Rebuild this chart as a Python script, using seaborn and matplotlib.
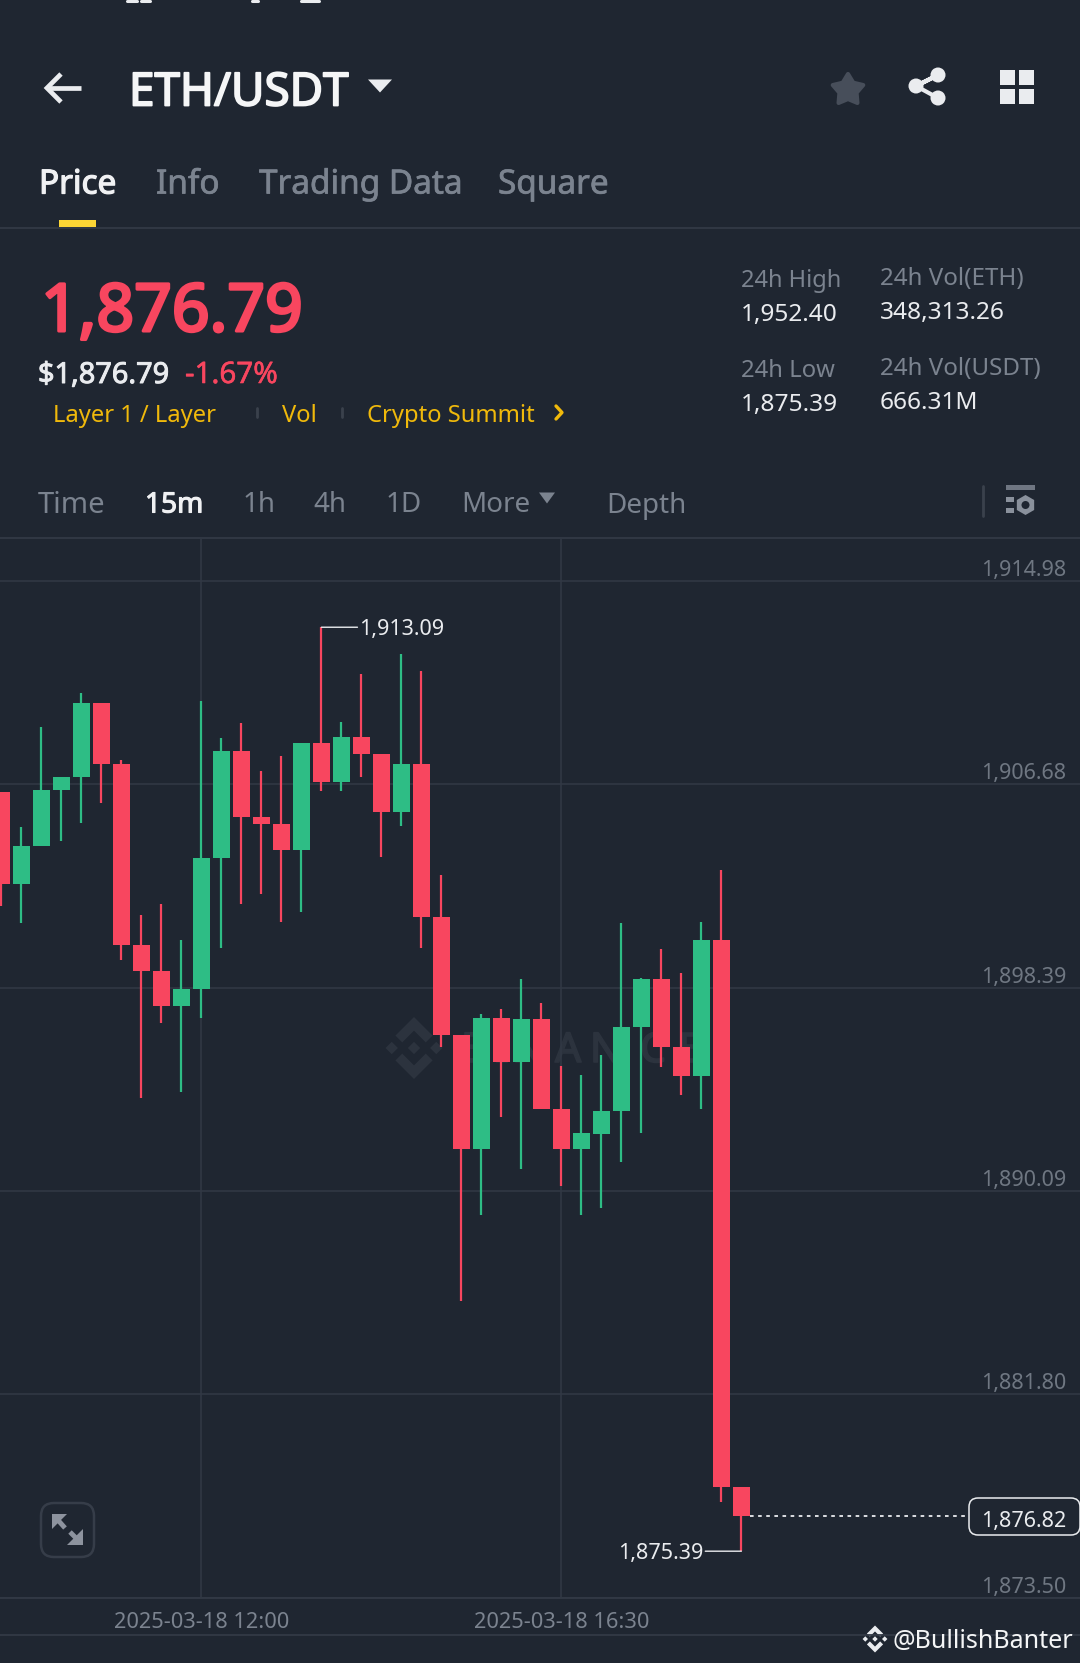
import matplotlib
matplotlib.use("Agg")
import matplotlib.pyplot as plt
import matplotlib.patheffects as pe
from matplotlib.patches import Polygon, Rectangle, FancyBboxPatch, Circle, RegularPolygon
import numpy as np
import pandas as pd
import seaborn as sns

# 15m candles
opens = [1906.37, 1902.63, 1904.16, 1906.45, 1906.99, 1910.00, 1907.50, 1900.12, 1899.08, 1897.64,
         1898.33, 1903.69, 1908.05, 1905.36, 1905.05, 1904.00, 1908.38, 1906.79, 1908.60, 1907.92,
         1905.56, 1907.50, 1901.25, 1896.47, 1891.80, 1897.16, 1895.36, 1897.10, 1893.45, 1891.80,
         1892.43, 1893.36, 1896.78, 1898.72, 1895.98, 1894.78, 1900.33, 1878.02]
closes = [1902.63, 1904.16, 1906.45, 1906.99, 1910.00, 1907.50, 1900.12, 1899.08, 1897.64, 1898.33,
          1903.69, 1908.05, 1905.36, 1905.05, 1904.00, 1908.38, 1906.79, 1908.60, 1907.92, 1905.56,
          1907.50, 1901.25, 1896.45, 1891.80, 1897.16, 1895.36, 1897.10, 1893.45, 1891.80, 1892.44,
          1893.36, 1896.78, 1898.72, 1895.98, 1894.78, 1900.33, 1878.02, 1876.82]
highs = [1906.37, 1904.94, 1909.03, 1906.99, 1910.41, 1910.00, 1907.67, 1901.35, 1901.81, 1900.33,
         1910.08, 1908.58, 1909.17, 1907.22, 1907.82, 1908.38, 1913.09, 1909.22, 1911.18, 1907.92,
         1912.00, 1911.32, 1902.97, 1896.47, 1897.31, 1897.50, 1898.74, 1897.76, 1895.20, 1894.81,
         1895.64, 1901.01, 1898.76, 1899.96, 1898.98, 1901.06, 1903.20, 1878.02]
lows = [1901.72, 1901.01, 1904.16, 1904.37, 1905.09, 1905.90, 1899.51, 1893.87, 1896.93, 1894.14,
        1897.16, 1900.02, 1901.80, 1902.20, 1901.08, 1901.47, 1906.39, 1906.42, 1906.96, 1903.73,
        1904.99, 1900.02, 1895.95, 1885.60, 1889.09, 1893.11, 1890.97, 1893.45, 1890.30, 1889.09,
        1889.39, 1891.28, 1892.47, 1895.15, 1894.02, 1893.45, 1877.40, 1875.39]

price_ticks = [1914.98, 1906.68, 1898.39, 1890.09, 1881.80, 1873.50]
price_labels = ["1,914.98", "1,906.68", "1,898.39", "1,890.09", "1,881.80", "1,873.50"]
time_ticks = [10, 28]
time_labels = ["2025-03-18 12:00", "2025-03-18 16:30"]
high_label = "1,913.09"
low_label = "1,875.39"
last_price = 1876.82
last_label = "1,876.82"

BG = "#1f2631"
GRID = "#323945"
RED = "#f8465f"
GREEN = "#2ebd85"
WHITE = "#eaecef"
GREY = "#7b838f"
GOLD = "#f0b90b"
YELLOW = "#fcd535"
MARK = "#2c333e"

W, H = 1080, 1663

sns.set_theme(style="dark", rc={"figure.facecolor": BG, "axes.facecolor": BG, "savefig.facecolor": BG})
plt.rcParams["font.family"] = ["Noto Sans", "DejaVu Sans"]

fig = plt.figure(figsize=(W / 100, H / 100), dpi=100)

# background axes in pixel coords for the app chrome
ui = fig.add_axes([0, 0, 1, 1], zorder=0)
ui.set_xlim(0, W)
ui.set_ylim(H, 0)
ui.axis("off")


def label(x, y, s, size, color=GREY, stroke=0, ha="left"):
    # stroke fakes the heavier weights, only regular Noto Sans is picked up here
    t = ui.text(x, y, s, fontsize=size, color=color, ha=ha, va="center_baseline")
    if stroke:
        t.set_path_effects([pe.withStroke(linewidth=stroke, foreground=color)])
    return t


def logo(cx, cy, r, color):
    # binance diamond mark
    for dx in (-0.72, 0, 0.72):
        ui.add_patch(Polygon([(cx + dx * r, cy - 0.2 * r), (cx + (dx + 0.2) * r, cy),
                              (cx + dx * r, cy + 0.2 * r), (cx + (dx - 0.2) * r, cy)], color=color, lw=0))
    for s in (-1, 1):
        pts = [(0, 1), (0.6, 0.4), (0.38, 0.18), (0, 0.56), (-0.38, 0.18), (-0.6, 0.4)]
        ui.add_patch(Polygon([(cx + a * r, cy + s * b * r) for a, b in pts], color=color, lw=0))


def tri(cx, cy, w, h, color):
    ui.add_patch(Polygon([(cx - w / 2, cy - h / 2), (cx + w / 2, cy - h / 2), (cx, cy + h / 2)], color=color, lw=0))


# bottoms of the status bar text, cut off by the crop
for x0, x1 in [(127, 137), (141, 150), (252, 258), (301, 319)]:
    ui.plot([x0, x1], [1, 1], color=WHITE, lw=2.2, solid_capstyle="round")

# header
ui.plot([47, 81], [88, 88], color=WHITE, lw=3.4, solid_capstyle="butt")
ui.plot([61, 47, 61], [74, 88, 102], color=WHITE, lw=3.4, solid_joinstyle="miter", solid_capstyle="butt")
label(129, 88, "ETH/USDT", 33, "#f5f6f7", stroke=1.3)
tri(380, 86, 24, 13, WHITE)

angles = np.linspace(-np.pi / 2, 1.5 * np.pi, 10, endpoint=False)
radii = np.array([16, 9] * 5)
ui.add_patch(Polygon(np.c_[848 + radii * np.cos(angles), 90 + radii * np.sin(angles)],
                     fc="#474e5a", ec="#474e5a", lw=3, joinstyle="round"))

ui.plot([916, 938, 916, 938], [86, 75, 86, 98], color=WHITE, lw=3)
for cx, cy, r in [(938, 75, 7.5), (916, 86, 7.5), (938, 98, 7.5)]:
    ui.add_patch(Circle((cx, cy), r, color=WHITE, lw=0))
for x0, y0 in [(1000, 70), (1019, 70), (1000, 89), (1019, 89)]:
    ui.add_patch(Rectangle((x0, y0), 15, 15, color=WHITE, lw=0))

# tabs
label(39, 181, "Price", 24, "#f0f1f3", stroke=0.9)
label(156, 181, "Info", 24, stroke=0.5)
label(259, 181, "Trading Data", 24, stroke=0.5)
label(498, 181, "Square", 24, stroke=0.5)
ui.add_patch(Rectangle((59, 220), 37, 7, color=YELLOW, lw=0))
ui.plot([0, W], [228, 228], color=GRID, lw=1.3)

# price block
label(41, 306, "1,876.79", 47.5, RED, stroke=2.2)
label(38, 372, "$1,876.79", 20.8, WHITE, stroke=0.7)
label(185, 372, "-1.67%", 21.3, RED, stroke=0.4)
label(53, 413, "Layer 1 / Layer", 17.1, GOLD)
label(282, 413, "Vol", 17.1, GOLD)
label(367, 413, "Crypto Summit", 17.1, GOLD)
ui.plot([556, 562, 556], [406, 412.5, 419], color=GOLD, lw=2.4)
for x in (257, 342):
    ui.plot([x, x], [408, 417], color="#3a414c", lw=2)

label(741, 278, "24h High", 17)
label(741, 312, "1,952.40", 17.6, WHITE)
label(741, 368, "24h Low", 17.2)
label(741, 402, "1,875.39", 17.6, WHITE)
label(880, 276, "24h Vol(ETH)", 17.4)
label(880, 310, "348,313.26", 17.6, WHITE)
label(880, 366, "24h Vol(USDT)", 17.4)
label(880, 400, "666.31M", 17.6, WHITE)

# interval row
label(38, 502, "Time", 21)
label(145, 502, "15m", 20.2, "#f0f1f3", stroke=0.8)
label(243, 502, "1h", 20)
label(313, 502, "4h", 20)
label(386, 502, "1D", 20)
label(461, 502, "More", 20)
tri(547, 498, 16, 11, GREY)
label(606, 502, "Depth", 20)
ui.plot([983, 983], [486, 516], color="#3a414c", lw=2)
ui.add_patch(Rectangle((1006, 485), 29, 5, color="#6f7682", lw=0))
ui.add_patch(Rectangle((1006, 497), 8, 5, color="#8a919c", lw=0))
ui.add_patch(Rectangle((1006, 508), 8, 5, color="#8a919c", lw=0))
ui.add_patch(RegularPolygon((1025.5, 505), 6, radius=10, color="#8a919c", lw=0))
ui.add_patch(Circle((1025.5, 505), 4, color=BG, lw=0))
ui.plot([0, W], [538, 538], color=GRID, lw=1.3)

# watermark sits under the candles, letters are spaced wide
logo(414, 1048, 31, MARK)
for x, letter in zip([461, 495, 512, 555, 590, 640, 678], "BINANCE"):
    label(x, 1046, letter, 29.5, MARK, stroke=1.2)

# expand button
ui.add_patch(FancyBboxPatch((51, 1513), 33, 34, boxstyle="round,pad=10,rounding_size=13", fc="none", ec="#363d49", lw=1.8))
ui.add_patch(Polygon([(52, 1514), (67, 1514), (52, 1529)], color="#8d939e", lw=0))
ui.add_patch(Polygon([(83, 1545), (67, 1545), (83, 1529)], color="#8d939e", lw=0))
ui.plot([57, 65], [1519, 1528], color="#8d939e", lw=3.5, solid_capstyle="butt")
ui.plot([70, 78], [1532, 1540], color="#8d939e", lw=3.5, solid_capstyle="butt")

# bottom rows
ui.plot([0, W], [1635, 1635], color=GRID, lw=1.3)
logo(875, 1639, 13.5, WHITE)
label(893, 1639, "@BullishBanter", 18.1, "#f4f5f6")

# last price tag
ui.add_patch(FancyBboxPatch((974, 1503), 101, 27, boxstyle="round,pad=5,rounding_size=9", fc=BG, ec=WHITE, lw=1.1))
label(1024, 1519, last_label, 15.5, WHITE, ha="center")

# chart axes
ax = fig.add_axes([0, 1 - 1598 / H, 1, (1598 - 539) / H], zorder=1)
ax.patch.set_alpha(0)

df = pd.DataFrame({"i": range(len(opens)), "open": opens, "close": closes, "high": highs, "low": lows})
df["top"] = df[["open", "close"]].max(axis=1)
df["bottom"] = df[["open", "close"]].min(axis=1)
df["body"] = df["top"] - df["bottom"]
df["up"] = df["close"] > df["open"]

for up, color in [(True, GREEN), (False, RED)]:
    part = df[df["up"] == up]
    ax.vlines(part["i"], part["low"], part["high"], color=color, lw=1.6, zorder=3)
    sns.barplot(x=part["i"].to_numpy(), y=part["body"].to_numpy(), bottom=part["bottom"].to_numpy(),
                native_scale=True, width=0.87, color=color, saturation=1, linewidth=0, ax=ax, zorder=4)

ax.set_xlim(-0.0667, 53.93)
ax.set_ylim(1873.48, 1916.69)
ax.set_xlabel("")
ax.set_ylabel("")

ax.set_yticks(price_ticks, price_labels)
ax.set_xticks(time_ticks, time_labels)
ax.yaxis.tick_right()
ax.tick_params(axis="y", length=0, pad=-10, labelsize=15.5, labelcolor="#6f7782")
for t in ax.get_yticklabels():
    t.set_ha("right")
    t.set_va("bottom")
ax.tick_params(axis="x", length=0, pad=10, labelsize=15.7, labelcolor=GREY)
ax.grid(True, color=GRID, lw=1.1, zorder=1)
ax.set_axisbelow(True)
for name, sp in ax.spines.items():
    sp.set_visible(name == "bottom")
    sp.set_color(GRID)
    sp.set_linewidth(1.3)

# high / low callouts and last price line
i_high = highs.index(max(highs))
i_low = lows.index(min(lows))
for i, value, text, side, ha in [(i_high, highs[i_high], high_label, 1, "left"), (i_low, lows[i_low], low_label, -1, "right")]:
    ax.annotate("", xy=(i, value), xytext=(side * 26, 0), textcoords="offset points",
                arrowprops=dict(arrowstyle="-", color=WHITE, lw=1, shrinkA=0, shrinkB=0), zorder=6)
    ax.annotate(text, xy=(i, value), xytext=(side * 27, 0), textcoords="offset points",
                color=WHITE, fontsize=15.5, va="center_baseline", ha=ha, zorder=6)
ax.plot([i_low + 0.45, 48.2], [last_price, last_price], color=WHITE, lw=1.3, ls=(0, (2, 2.5)), zorder=5)

fig.savefig("out.png", dpi=100)
